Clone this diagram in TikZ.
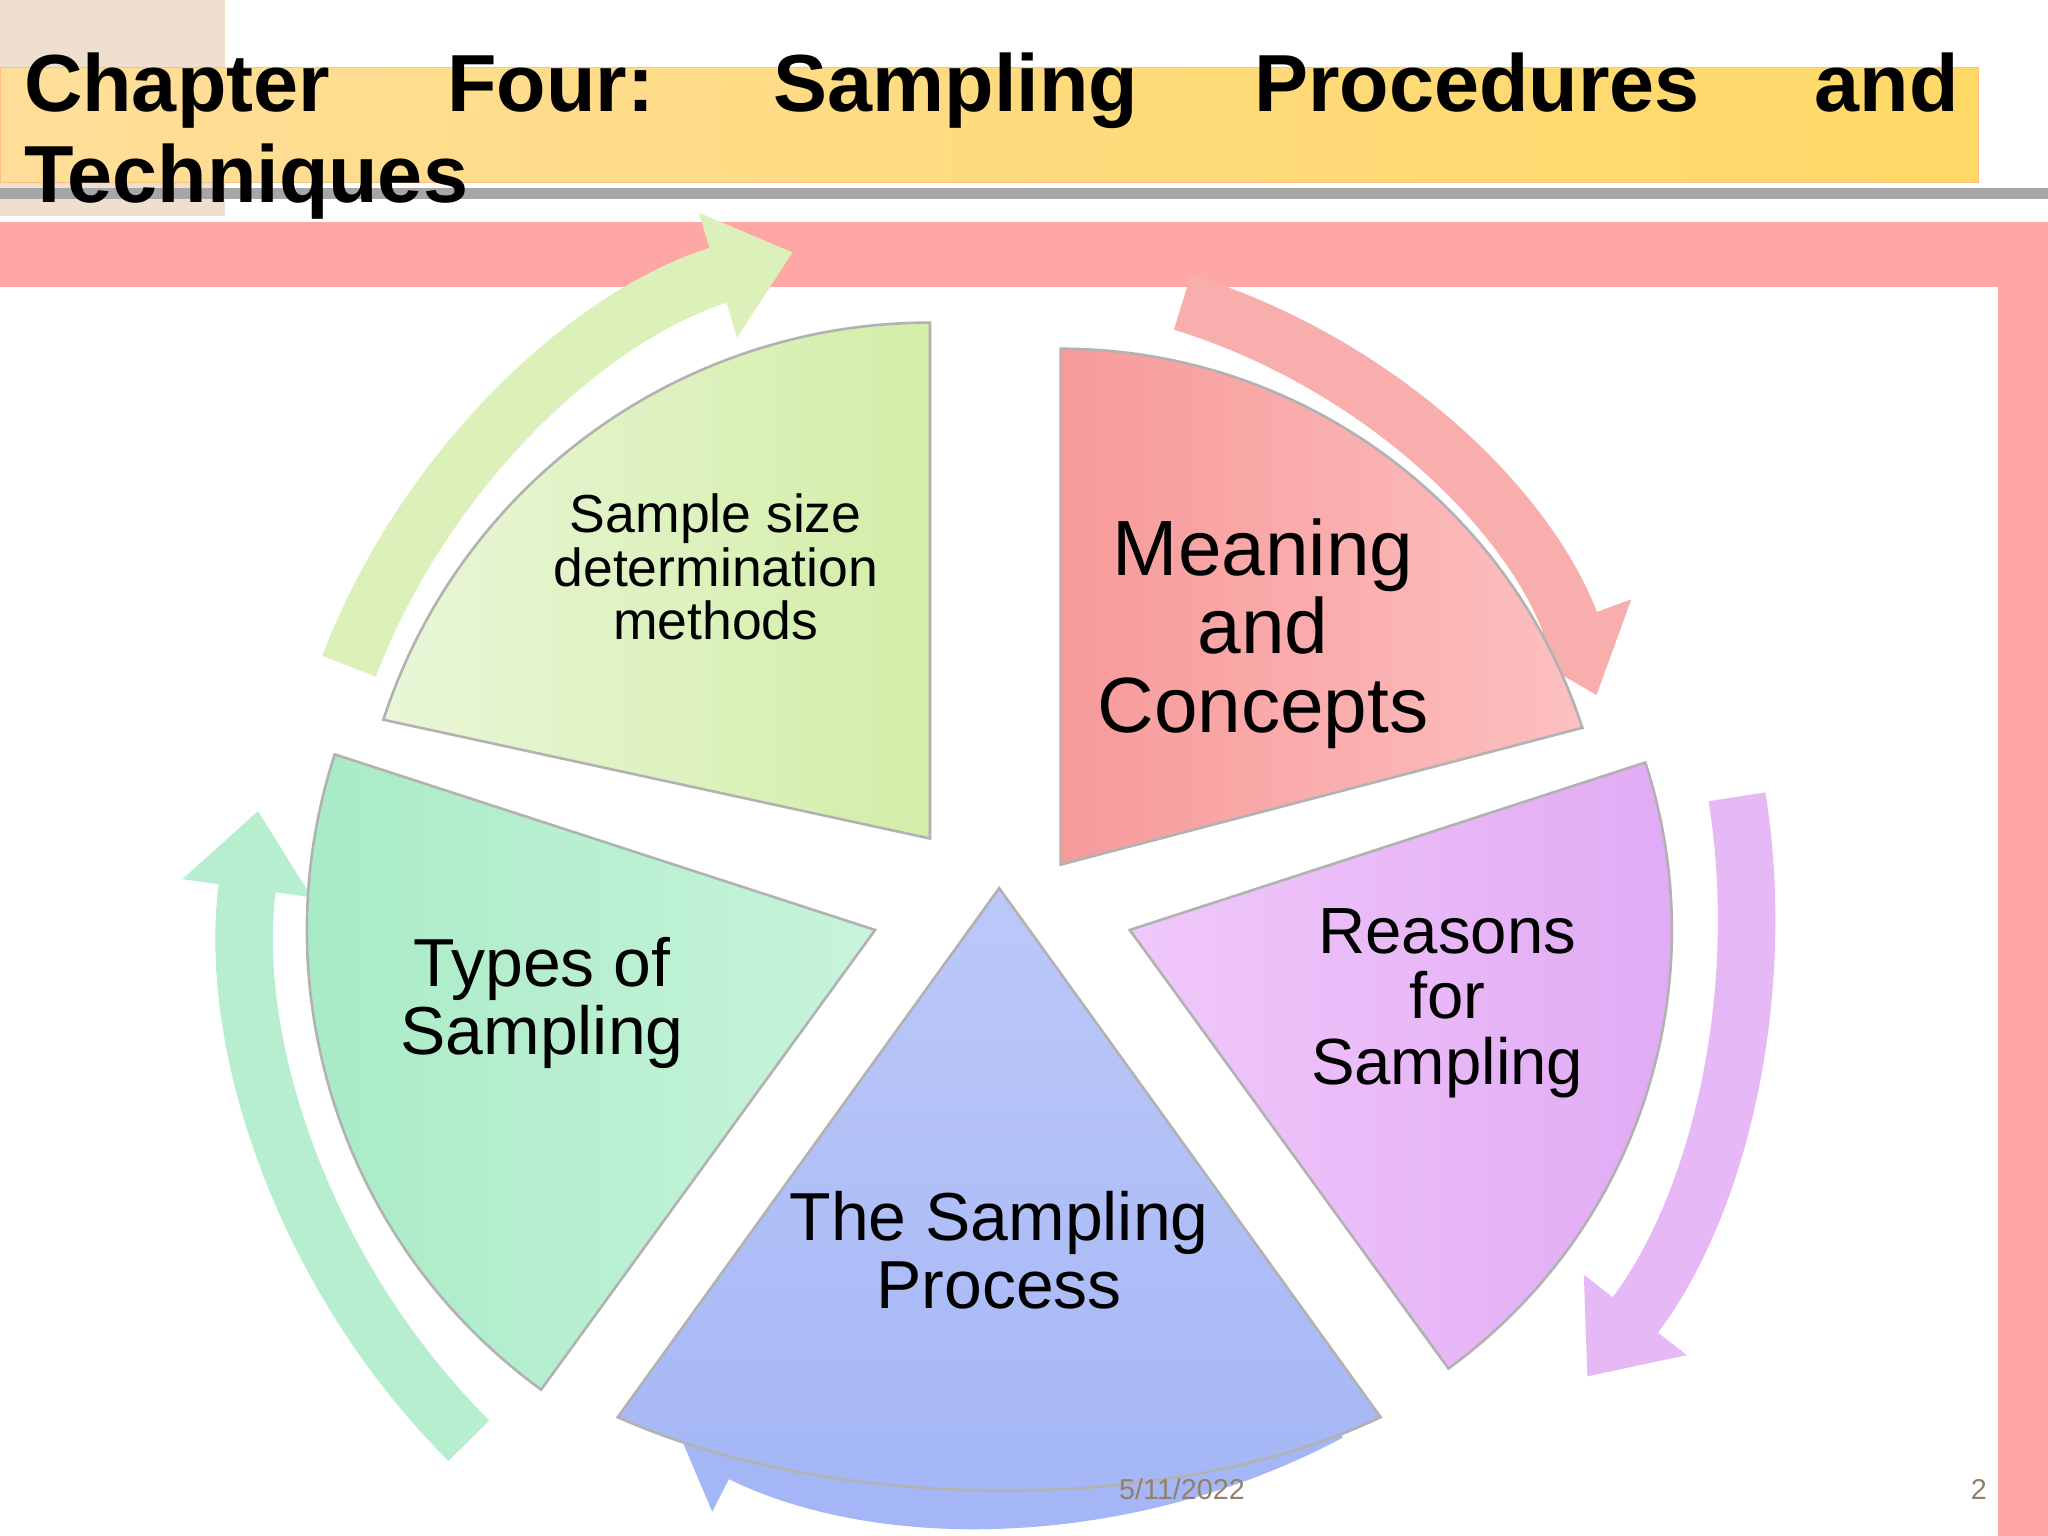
\documentclass[tikz,border=0pt]{standalone}
\usepackage{fontspec}
\setmainfont{Liberation Sans}
\usetikzlibrary{arrows.meta}
\definecolor{gA}{HTML}{D2EEA8}\definecolor{gB}{HTML}{EAF6D8}
\definecolor{rA}{HTML}{F79A9A}\definecolor{rB}{HTML}{FDC0C0}
\definecolor{vA}{HTML}{E0A8F4}\definecolor{vB}{HTML}{F0C8FA}
\definecolor{bA}{HTML}{A4B6F6}\definecolor{bB}{HTML}{BCC8F8}
\definecolor{mA}{HTML}{A6EAC4}\definecolor{mB}{HTML}{C8F4DC}
\begin{document}
\begin{tikzpicture}[x=0.5pt,y=0.5pt,
 sec/.style={draw=gray!60,line width=1pt},
 lab/.style={align=center,text=black,font=\fontsize{#1}{#1}\selectfont,inner sep=0pt},
 ttl/.style={anchor=base west,inner sep=0pt,font=\bfseries\fontsize{31}{31}\selectfont},
 arr/.style={line width=22pt,draw=#1,-{Triangle[length=30pt,width=48pt]}}]
\useasboundingbox (0,0) rectangle (1568,-1176);
\fill[white] (0,0) rectangle (1568,-1176);
% header
\fill[brown!25!white] (0,0) rectangle (172,-165);
\shade[left color=yellow!35!orange!40,right color=yellow!50!orange!60,draw=orange!50] (0,-52) rectangle (1515,-140);
\fill[gray!70] (0,-144) rectangle (1568,-152);
\fill[red!35] (0,-170) rectangle (1568,-220);
\fill[red!35] (1530,-170) rectangle (1568,-1176);
\node[ttl] (t1) at (18,-85) {Chapter};
\node[ttl] (t2) at (342,-85) {Four:};
\node[ttl] (t3) at (592,-85) {Sampling};
\node[ttl] (t4) at (960,-85) {Procedures};
\node[ttl,anchor=base east] (t5) at (1500,-85) {and};
\node[ttl] (t6) at (18,-155) {Techniques};
% arrows
\coordinate (c) at (762,-700);
\coordinate (cb) at (762,-600);
\draw[arr=gA!80] (c) ++(159:530) arc[start angle=159,end angle=107,radius=530];
\draw[arr=rA!80] (c) ++(73:490) arc[start angle=73,end angle=20,radius=490];
\draw[arr=vA!80] (c) ++(9:575) arc[start angle=9,end angle=-38,radius=575];
\draw[arr=bA] (cb) ++(-62:545) arc[start angle=-62,end angle=-117,radius=545];
\draw[arr=mA!80] (c) ++(-135:570) arc[start angle=-135,end angle=-188,radius=570];
% sectors
\coordinate (a1) at (812,-662);
\shade[sec,left color=rA,right color=rB] (a1) -- ++(90:395) arc[start angle=90,end angle=18,radius=420] -- cycle;
\coordinate (a2) at (865,-712);
\shade[sec,left color=vB,right color=vA] (a2) -- ++(18:415) arc[start angle=18,end angle=-54,radius=415] -- cycle;
\coordinate (a3) at (765,-680);
\coordinate (b3r) at (1057,-1085);
\coordinate (b3l) at (473,-1085);
\shade[sec,top color=bB,bottom color=bA] (a3) -- (b3r) .. controls (900,-1160) and (640,-1160) .. (b3l) -- cycle;
\coordinate (a4) at (670,-712);
\shade[sec,left color=mA,right color=mB] (a4) -- ++(162:435) arc[start angle=162,end angle=234,radius=435] -- cycle;
\coordinate (a5) at (712,-642);
\shade[sec,left color=gB,right color=gA] (a5) -- ++(90:395) arc[start angle=90,end angle=162,radius=440] -- cycle;
% labels
\node[lab=30] (l1) at (967,-485) {Meaning\\and\\Concepts};
\node[lab=25] (l2) at (1108,-768) {Reasons\\for\\Sampling};
\node[lab=26] (l3) at (765,-957) {The Sampling\\Process};
\node[lab=26] (l4) at (415,-768) {Types of\\Sampling};
\node[lab=20.5] (l5) at (548,-434) {Sample size\\determination\\methods};
\node[text=gray!70!brown,font=\fontsize{11}{11}\selectfont] (d) at (905,-1140) {5/11/2022};
\node[text=gray!70!brown,font=\fontsize{11}{11}\selectfont] (p) at (1515,-1140) {2};
\end{tikzpicture}
\end{document}
